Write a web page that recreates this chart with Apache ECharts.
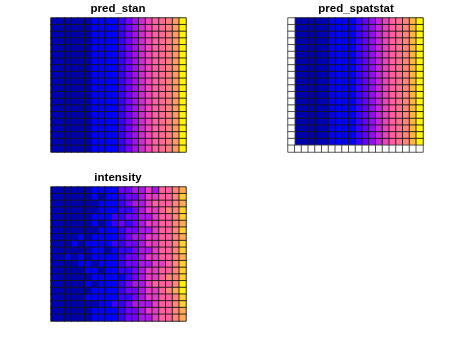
<!DOCTYPE html>
<html>
<head>
<meta charset="utf-8">
<script src="https://cdn.jsdelivr.net/npm/echarts@6/dist/echarts.min.js"></script>
<style>
  html, body { margin: 0; padding: 0; background: #ffffff; }
  #chart { width: 474px; height: 338px; }
</style>
</head>
<body>
<div id="chart"></div>
<script>
// Colour classes (sf.colors ramp), class 0 = lowest, class 10 = highest
const classColors = ['#0000B3', '#0000FC', '#3800FF', '#7100FF', '#AB17E8',
                     '#E53CC3', '#FF619E', '#FF8679', '#FFAB54', '#FFD02F', '#FFF50A'];

const panelTitles = ['pred_stan', 'pred_spatstat', 'intensity'];

// pred_stan: class per column (every row identical)
const predStanCols = [0, 0, 0, 0, 0, 0, 1, 1, 1, 1, 2, 3, 3.8, 4.6, 5.3, 6, 6.3, 6.8, 7.6, 10];

// pred_spatstat: class per column; first column and last row have no prediction
const predSpatstatCols = [null, 0, 0, 0, 0, 0, 1, 1, 1, 1, 2, 2.8, 3.6, 4.4, 5.2, 6, 6.4, 7, 8.3, 10];
const predSpatstatRows = 19; // rows with values; the 20th row is empty

// intensity: class per cell, rows from top to bottom
const intensityRows = [
  [0, 0, 0, 0, 0, 0, 1, 1, 1, 1, 3, 3, 4, 4, 5, 4, 6, 6, 7, 8],
  [0, 0, 0, 0, 0, 0, 1, 0, 1, 1, 2, 3, 3, 4, 5, 5, 6, 6, 7, 9],
  [0, 0, 0, 0, 0, 0, 0, 1, 1, 1, 2, 3, 4, 4, 5, 6, 6, 6, 7, 8],
  [0, 0, 0, 0, 0, 0, 0, 1, 1, 1, 2, 2, 3, 4, 5, 5, 6, 7, 7, 9],
  [0, 0, 0, 0, 0, 0, 1, 1, 1, 2, 2, 3, 3, 4, 4, 5, 6, 6, 7, 9],
  [0, 0, 0, 0, 0, 0, 1, 0, 1, 2, 3, 2, 3, 4, 5, 5, 6, 6, 7, 8],
  [0, 0, 0, 0, 0, 0, 0, 1, 1, 1, 2, 3, 3, 4, 4, 5, 6, 6, 7, 9],
  [0, 0, 0, 0, 1, 0, 1, 1, 1, 1, 2, 3, 4, 4, 5, 5, 6, 6, 7, 8],
  [0, 0, 0, 1, 0, 1, 1, 1, 1, 2, 2, 3, 3, 4, 5, 5, 6, 6, 7, 9],
  [0, 0, 0, 0, 0, 0, 1, 1, 0, 1, 2, 2, 3, 4, 4, 5, 6, 6, 7, 9],
  [0, 0, 1, 0, 1, 0, 1, 1, 1, 1, 2, 3, 3, 4, 5, 5, 6, 6, 7, 8],
  [0, 0, 0, 0, 1, 1, 0, 1, 1, 1, 2, 3, 3, 4, 4, 5, 5, 6, 7, 9],
  [0, 0, 0, 0, 0, 1, 1, 0, 1, 1, 2, 2, 3, 4, 5, 5, 6, 6, 7, 9],
  [0, 0, 0, 0, 0, 0, 1, 1, 1, 1, 1, 2, 3, 4, 5, 5, 6, 7, 7, 9],
  [0, 0, 0, 0, 0, 1, 0, 1, 1, 1, 2, 3, 4, 4, 5, 6, 6, 6, 7, 10],
  [0, 0, 0, 0, 0, 0, 1, 1, 1, 1, 2, 3, 3, 4, 5, 5, 6, 7, 8, 10],
  [0, 0, 0, 0, 0, 1, 1, 1, 1, 1, 2, 2, 3, 4, 5, 5, 6, 6, 7, 9],
  [0, 0, 0, 0, 0, 0, 0, 1, 1, 2, 2, 3, 4, 4, 4, 5, 6, 6, 7, 9],
  [0, 0, 0, 0, 0, 0, 1, 1, 1, 1, 2, 3, 3, 4, 5, 5, 6, 6, 7, 8],
  [0, 0, 0, 0, 0, 0, 1, 1, 1, 1, 2, 3, 3, 4, 4, 5, 6, 6, 7, 8]
];

const nCols = 20, nRows = 20;
const colCats = Array.from({ length: nCols }, (_, i) => String(i + 1));
const rowCats = Array.from({ length: nRows }, (_, i) => String(i + 1));

// Split a panel into filled cells and empty (no-value) cells
function splitColumns(cols, filledRows) {
  const filled = [], empty = [];
  for (let r = 0; r < nRows; r++) {
    for (let c = 0; c < nCols; c++) {
      if (r < filledRows && cols[c] !== null) filled.push([c, r, cols[c]]);
      else empty.push([c, r, 0]);
    }
  }
  return { filled, empty };
}

function splitRows(rows) {
  const filled = [], empty = [];
  rows.forEach((row, r) => row.forEach((v, c) => {
    if (v === null) empty.push([c, r, 0]); else filled.push([c, r, v]);
  }));
  return { filled, empty };
}

const panelData = [
  splitColumns(predStanCols, nRows),
  splitColumns(predSpatstatCols, predSpatstatRows),
  splitRows(intensityRows)
];

// Panel placement (pixels)
const panels = [
  { left: 51,  top: 18,  width: 135, height: 134, titleX: 118, titleY: 9 },
  { left: 288, top: 18,  width: 135, height: 134, titleX: 356, titleY: 9 },
  { left: 51,  top: 187, width: 135, height: 134, titleX: 118, titleY: 178 }
];

const cellBorder = { borderColor: 'rgba(20,20,20,0.85)', borderWidth: 1 };

const valueSeries = panelData.map((d, i) => ({
  type: 'heatmap',
  name: panelTitles[i],
  xAxisIndex: i,
  yAxisIndex: i,
  data: d.filled,
  itemStyle: cellBorder,
  emphasis: { disabled: true }
}));

const emptySeries = panelData.map((d, i) => ({
  type: 'heatmap',
  name: panelTitles[i] + ' (empty)',
  xAxisIndex: i,
  yAxisIndex: i,
  data: d.empty,
  itemStyle: { borderColor: 'rgba(60,60,60,0.85)', borderWidth: 1 },
  emphasis: { disabled: true }
}));

const chart = echarts.init(document.getElementById('chart'), null, { renderer: 'canvas' });

chart.setOption({
  animation: false,
  backgroundColor: '#ffffff',
  grid: panels.map(p => ({ left: p.left, top: p.top, width: p.width, height: p.height, containLabel: false })),
  xAxis: panels.map((p, i) => ({ type: 'category', gridIndex: i, data: colCats, show: false })),
  yAxis: panels.map((p, i) => ({ type: 'category', gridIndex: i, data: rowCats, inverse: true, show: false })),
  visualMap: [
    {
      type: 'continuous',
      show: false,
      min: 0,
      max: 10,
      dimension: 2,
      seriesIndex: [0, 1, 2],
      inRange: { color: classColors }
    },
    {
      type: 'continuous',
      show: false,
      min: 0,
      max: 1,
      dimension: 2,
      seriesIndex: [3, 4, 5],
      inRange: { color: ['#ffffff', '#ffffff'] }
    }
  ],
  series: valueSeries.concat(emptySeries),
  graphic: panels.map((p, i) => ({
    type: 'text',
    x: p.titleX,
    y: p.titleY,
    style: {
      text: panelTitles[i],
      font: 'bold 11.5px "Liberation Sans", Arial, sans-serif',
      fill: '#000000',
      align: 'center',
      verticalAlign: 'middle'
    }
  }))
});
</script>
</body>
</html>
